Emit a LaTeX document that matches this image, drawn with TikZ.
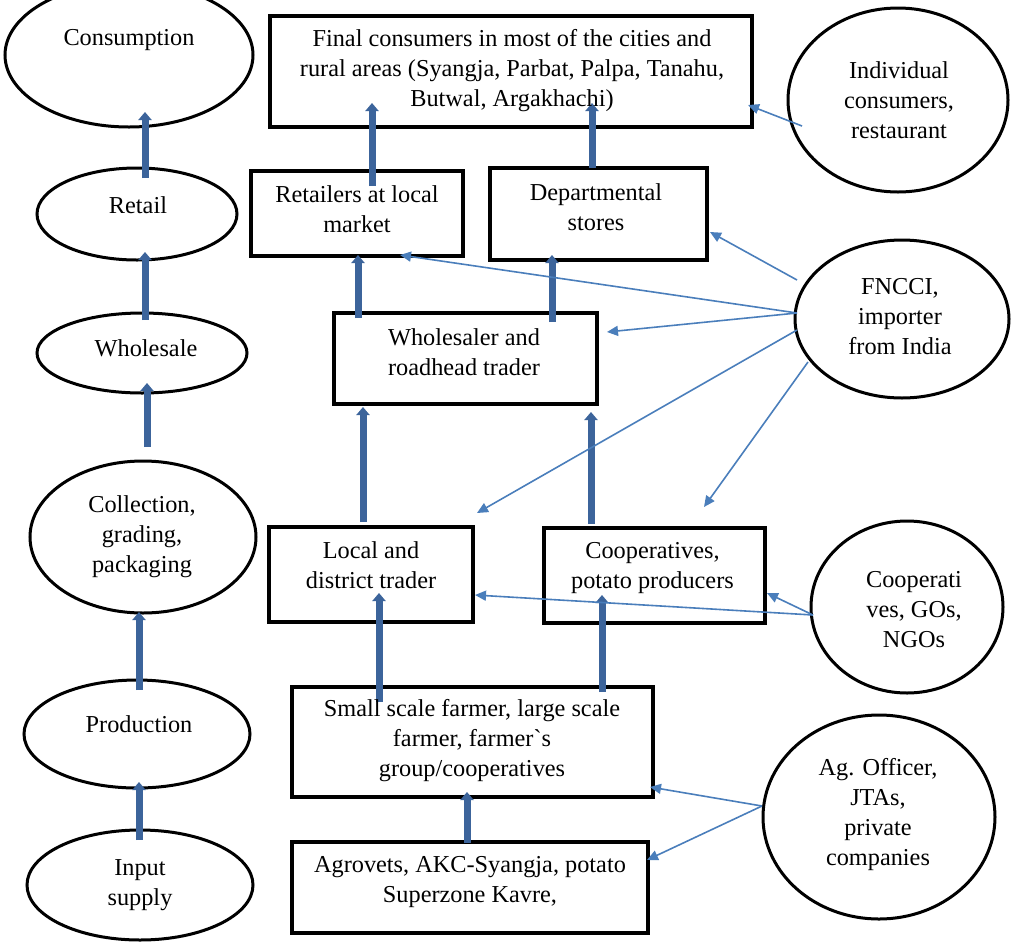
\documentclass[tikz,border=0pt]{standalone}
\usepackage{fontspec}
\setmainfont{Liberation Serif}
\usetikzlibrary{shapes.geometric,arrows.meta,calc}
\definecolor{thickblue}{RGB}{60,100,155}
\definecolor{thinblue}{RGB}{74,126,187}
\tikzset{
  stage/.style={ellipse, draw=black, line width=3pt, inner sep=0pt, fill=white},
  actor/.style={rectangle, draw=black, line width=3.2pt, inner sep=0pt, fill=white},
  txt/.style={align=center, inner sep=0pt, font=\fontsize{24.3}{30}\selectfont},
  flow/.style={draw=thickblue, line width=7pt, -{Triangle[width=13pt,length=8pt]}},
  link/.style={draw=thinblue, line width=1.6pt, -{Triangle[width=10pt,length=11pt]}},
}
\begin{document}
\begin{tikzpicture}[x=1pt,y=-1pt]
\useasboundingbox (0,0) rectangle (1026,946);
\clip (0,0) rectangle (1026,946);
% left stages
\node[stage, minimum width=248, minimum height=144] (cons) at (129,55) {};
\node[stage, minimum width=200, minimum height=92] (retail) at (137,214) {};
\node[stage, minimum width=210, minimum height=80] (whole) at (142,353) {};
\node[stage, minimum width=226, minimum height=152] (coll) at (143,537) {};
\node[stage, minimum width=226, minimum height=108] (prod) at (137,734) {};
\node[stage, minimum width=226, minimum height=110] (input) at (140,885) {};
% boxes
\node[actor, minimum width=482, minimum height=111] (final) at (511,71.5) {};
\node[actor, minimum width=212, minimum height=85] (retailers) at (357,213.5) {};
\node[actor, minimum width=217, minimum height=92] (dept) at (598.5,214) {};
\node[actor, minimum width=263, minimum height=91] (wholesaler) at (465.5,358.5) {};
\node[actor, minimum width=204, minimum height=95] (local) at (371,574.5) {};
\node[actor, minimum width=221, minimum height=95] (coop) at (654.5,575.5) {};
\node[actor, minimum width=361, minimum height=110] (small) at (472.5,742) {};
\node[actor, minimum width=356, minimum height=91] (agro) at (470,887.5) {};
% right actors
\node[stage, minimum width=220, minimum height=184] (indiv) at (898,100) {};
\node[stage, minimum width=214, minimum height=158] (fncci) at (902,319) {};
\node[stage, minimum width=192, minimum height=172] (coopg) at (907,607) {};
\node[stage, minimum width=232, minimum height=204] (ag) at (879,817) {};
% thick flows, left column
\draw[flow] ($(retail)+(8,-36)$) -- ($(cons)+(16,57)$);
\draw[flow] ($(whole)+(3,-33)$) -- ($(retail)+(8,38)$);
\draw[flow] ($(coll)+(4,-90)$) -- ($(whole)+(5,30)$);
\draw[flow] ($(prod)+(2,-44)$) -- ($(coll)+(-4,75)$);
\draw[flow] ($(input)+(-1,-45)$) -- ($(prod)+(2,48)$);
% thick flows, middle
\draw[flow] ($(retailers)+(15,-27.5)$) -- ($(final)+(-139,31.5)$);
\draw[flow] ($(dept)+(-6.5,-46)$) -- ($(final)+(81,31.5)$);
\draw[flow] ($(wholesaler)+(-107.5,-40.5)$) -- ($(retailers)+(1,41.5)$);
\draw[flow] ($(wholesaler)+(86.5,-36.5)$) -- ($(dept)+(-46.5,41)$);
\draw[flow] ($(local)+(-8,-52.5)$) -- ($(wholesaler)+(-102.5,48.5)$);
\draw[flow] ($(coop)+(-63.5,-51.5)$) -- ($(wholesaler)+(125.5,53.5)$);
\draw[flow] ($(small)+(-93.5,-40)$) -- ($(local)+(8,18.5)$);
\draw[flow] ($(small)+(129.5,-50)$) -- ($(coop)+(-52.5,19.5)$);
\draw[flow] ($(agro)+(-3,-44.5)$) -- ($(small)+(-5.5,50)$);
% thin links
\draw[link] ($(indiv)+(-96,26)$) -- ($(final)+(237,33.5)$);
\draw[link] ($(fncci)+(-105,-39)$) -- ($(dept)+(111.5,18)$);
\draw[link] ($(fncci)+(-105,-6)$) -- ($(retailers)+(43,41.5)$);
\draw[link] ($(fncci)+(-105,-6)$) -- ($(wholesaler)+(141.5,-26.5)$);
\draw[link] ($(fncci)+(-105,11)$) -- ($(local)+(106,-61.5)$);
\draw[link] ($(fncci)+(-94,43)$) -- ($(coop)+(49.5,-68.5)$);
\draw[link] ($(coopg)+(-94,8)$) -- ($(coop)+(112.5,17.5)$);
\draw[link] ($(coopg)+(-94,8)$) -- ($(local)+(104,20.5)$);
\draw[link] ($(ag)+(-117,-11)$) -- ($(small)+(177.5,45)$);
\draw[link] ($(ag)+(-117,-11)$) -- ($(agro)+(177,-27.5)$);
% texts
\node[txt] (consT) at (129,40) {Consumption};
\node[txt] (retailT) at (138,205) {Retail};
\node[txt] (wholeT) at (146,348) {Wholesale};
\node[txt] (collT) at (142,537) {Collection,\\grading,\\packaging};
\node[txt] (prodT) at (139,724) {Production};
\node[txt] (inputT) at (140,885) {Input\\supply};
\node[txt] (finalT) at (512,70.5) {Final consumers in most of the cities and\\rural areas (Syangja, Parbat, Palpa, Tanahu,\\Butwal, Argakhachi)};
\node[txt] (retailersT) at (357,209) {Retailers at local\\market};
\node[txt] (deptT) at (596,207) {Departmental\\stores};
\node[txt] (wholesalerT) at (464,352) {Wholesaler and\\roadhead trader};
\node[txt] (localT) at (371,565) {Local and\\district trader};
\node[txt] (coopT) at (652.5,568) {Cooperatives,\\potato producers};
\node[txt] (smallT) at (472,741) {Small scale farmer, large scale\\farmer, farmer\textasciigrave s\\group/cooperatives};
\node[txt] (agroT) at (470,882) {Agrovets, AKC-Syangja, potato\\Superzone Kavre,};
\node[txt] (indivT) at (899,100) {Individual\\consumers,\\restaurant};
\node[txt] (fncciT) at (900,317) {FNCCI,\\importer\\from India};
\node[txt] (coopgT) at (914,610) {Cooperati\\ves, GOs,\\NGOs};
\node[txt] (agT) at (878,814.5) {Ag. Officer,\\JTAs,\\private\\companies};
\end{tikzpicture}
\end{document}
